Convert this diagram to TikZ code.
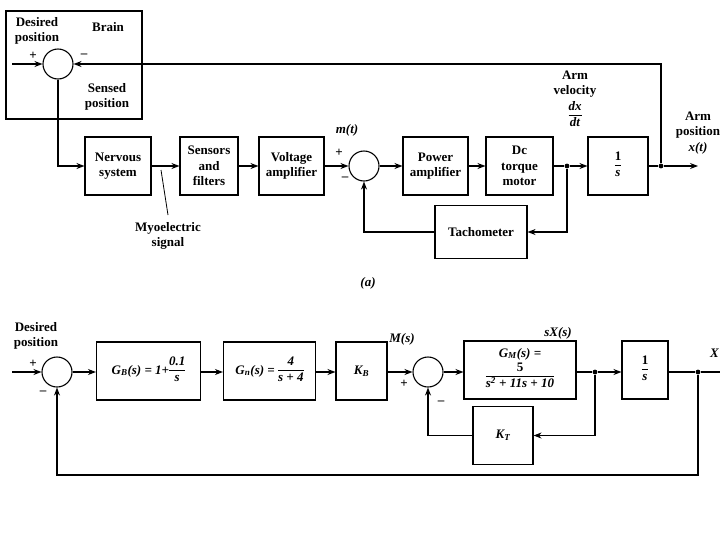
\documentclass[tikz,border=0pt]{standalone}
\usepackage{fontspec}
\setmainfont{Liberation Serif}
\usetikzlibrary{arrows.meta}
\newcommand\myfrac[2]{$\vcenter{\hbox{\setlength{\tabcolsep}{0pt}\setlength{\arrayrulewidth}{1pt}\renewcommand\arraystretch{0.9}\begin{tabular}{c}#1\\\hline\rule{0pt}{11pt}#2\end{tabular}}}$}
\begin{document}
\begin{tikzpicture}[x=1pt,y=-1pt,
  every node/.style={font=\bfseries\fontsize{13}{15.5}\selectfont, align=center, inner sep=0pt},
  blk/.style={draw, line width=1.1pt, minimum width=#1, minimum height=58pt},
  sum/.style={draw, circle, line width=1.1pt, minimum size=30pt},
  ln/.style={line width=1.1pt},
  ar/.style={ln, -{Stealth[length=8pt,width=6pt]}},
  dot/.style={circle, fill, inner sep=1.7pt}]
\useasboundingbox (0,0) rectangle (720,536);
% ---------- (a) ----------
\node[draw, line width=1.1pt, minimum width=136pt, minimum height=108pt] (brain) at (74,65) {};
\node (dp) at (37,31) {Desired\\position};
\node (bl) at (108,27) {Brain};
\node (sp) at (107,97) {Sensed\\position};
\node[sum] (s1) at (58,64) {};
\node at (33,56) {+};
\node at (84,56) {--};
\coordinate (in1) at (12,64);
\draw[ar] (in1) -- (s1.west);
\node[blk=66pt] (nerv) at (118,166) {Nervous\\system};
\node[blk=58pt] (sens) at (209,166) {Sensors\\and\\filters};
\node[blk=65pt] (volt) at (291.5,166) {Voltage\\amplifier};
\node[sum] (s2) at (364,166) {};
\node at (347,130) {\itshape m(t)};
\node at (339,153) {+};
\node at (345,179) {--};
\node[blk=65pt] (pow) at (435.5,166) {Power\\amplifier};
\node[blk=67pt] (dc) at (519.5,166) {Dc\\torque\\motor};
\node[blk=60pt] (int1) at (618,166) {\myfrac{1}{\itshape s}};
\node[draw, line width=1.1pt, minimum width=92pt, minimum height=53pt] (tach) at (481,232) {Tachometer};
\node[dot] (d1) at (567,166) {};
\node[dot] (d2) at (661,166) {};
\coordinate (out1) at (698,166);
\node at (575,75) {Arm};
\node at (575,91) {velocity};
\node at (575,116) {\myfrac{\itshape dx}{\itshape dt}};
\node at (698,133) {Arm\\position\\\itshape x(t)};
\draw[ar] (s1.south) |- (nerv.west);
\draw[ar] (nerv.east) -- (sens.west);
\draw[ar] (sens.east) -- (volt.west);
\draw[ar] (volt.east) -- (s2.west);
\draw[ar] (s2.east) -- (pow.west);
\draw[ar] (pow.east) -- (dc.west);
\draw[ln] (dc.east) -- (d1);
\draw[ar] (d1) -- (int1.west);
\draw[ln] (int1.east) -- (d2);
\draw[ar] (d2) -- (out1);
\draw[ar] (d1) |- (tach.east);
\draw[ar] (tach.west) -| (s2.south);
\draw[ar] (d2) |- (s1.east);
\coordinate (my1) at (161,170);
\coordinate (my2) at (168,215);
\draw[line width=0.8pt] (my1) -- (my2);
\node (myo) at (168,236) {Myoelectric\\signal};
\node (lab) at (368,283) {\itshape (a)};
% ---------- (b) ----------
\node (dp2) at (36,336) {Desired\\position};
\node[sum] (t1) at (57,372) {};
\node at (33,364) {+};
\node at (43,393) {--};
\coordinate (in2) at (12,372);
\draw[ar] (in2) -- (t1.west);
\node[blk=104pt] (gb) at (148.5,371) {\itshape G\textsubscript{B}(s) = 1+\myfrac{0.1}{\itshape s}};
\node[blk=92pt] (gn) at (269.5,371) {\itshape G\textsubscript{n}(s) = \myfrac{4}{\itshape s + 4}};
\node[blk=51pt] (kb) at (361.5,371) {\itshape K\textsubscript{B}};
\node[sum] (t2) at (428,372) {};
\node at (402,339) {\itshape M(s)};
\node at (404,384) {+};
\node at (441,403) {--};
\node[blk=112pt] (gm) at (520,370) {\itshape G\textsubscript{M}(s) =\\[1pt]\myfrac{5}{\itshape s\textsuperscript{2} + 11s + 10}};
\node at (558,333) {\itshape sX(s)};
\node[blk=46pt] (int2) at (645,370) {\myfrac{1}{\itshape s}};
\node[blk=60pt] (kt) at (503,435.5) {\itshape K\textsubscript{T}};
\node[dot] (e1) at (595,372) {};
\node[dot] (e2) at (698,372) {};
\coordinate (out2) at (720,372);
\node[anchor=west] at (710,353) {\itshape X};
\coordinate (fb) at (57,475);
\draw[ar] (t1.east) -- (gb.west |- t1);
\draw[ar] (gb.east |- t1) -- (gn.west |- t1);
\draw[ar] (gn.east |- t1) -- (kb.west |- t1);
\draw[ar] (kb.east |- t1) -- (t2.west);
\draw[ar] (t2.east) -- (gm.west |- t2);
\draw[ln] (gm.east |- e1) -- (e1);
\draw[ar] (e1) -- (int2.west |- e1);
\draw[ln] (int2.east |- e2) -- (e2) -- (out2);
\draw[ar] (e1) |- (kt.east);
\draw[ar] (kt.west) -| (t2.south);
\draw[ar] (e2) |- (fb) -- (t1.south);
\end{tikzpicture}
\end{document}
